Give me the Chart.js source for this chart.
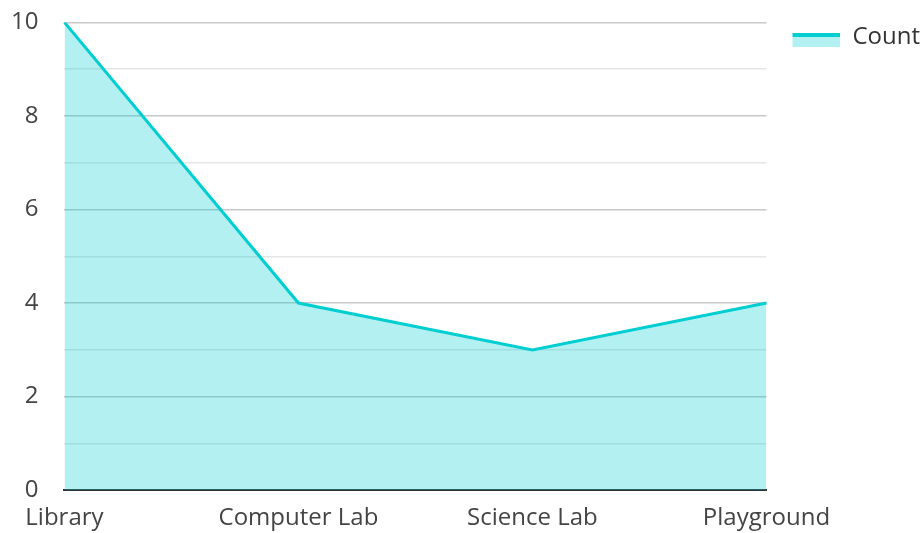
<!DOCTYPE html>
<html>
<head>
<meta charset="utf-8">
<script src="https://cdn.jsdelivr.net/npm/chart.js@4"></script>
<style>
  html, body { margin: 0; padding: 0; background: #fff; }
  #wrap { width: 924px; height: 533px; }
</style>
</head>
<body>
<div id="wrap"><canvas id="myChart"></canvas></div>
<script>
const locations = ['Library', 'Computer Lab', 'Science Lab', 'Playground'];
const count = [10, 4, 3, 4];
const yTicks = [0, 2, 4, 6, 8, 10];

const lineColor = '#00ced1';
const fillColor = 'rgba(0, 206, 209, 0.3)';

// legend swatch: light box with a thick line along the top
// (transparent margin on the left/top so it sits where the original does)
const swatch = document.createElement('canvas');
swatch.width = 74;
swatch.height = 20;
const sctx = swatch.getContext('2d');
sctx.fillStyle = fillColor;
sctx.fillRect(26, 6, 49, 14);
sctx.fillStyle = lineColor;
sctx.fillRect(26, 6, 49, 4);

// nudge the legend down a little
const legendNudge = {
    id: 'legendNudge',
    afterLayout(chart) { if (chart.legend) chart.legend.top += 5; }
};

Chart.defaults.font.family = "'Open Sans', 'Noto Sans', sans-serif";
Chart.defaults.font.size = 24;
Chart.defaults.color = '#444';

const ctx = document.getElementById('myChart').getContext('2d');
const myChart = new Chart(ctx, {
    type: 'line',
    data: {
        labels: locations,
        datasets: [{
            label: 'Count',
            data: count,
            borderColor: lineColor,
            backgroundColor: fillColor,
            borderWidth: 3,
            fill: 'origin',
            pointRadius: 0,
            tension: 0
        }]
    },
    options: {
        responsive: true,
        maintainAspectRatio: false,
        animation: false,
        layout: { padding: { top: 20, left: 3, right: -6, bottom: 0 } },
        plugins: {
            tooltip: { enabled: false },
            legend: {
                position: 'right',
                align: 'start',
                labels: {
                    usePointStyle: true,
                    pointStyleWidth: 74,
                    boxHeight: 20,
                    padding: 0,
                    color: '#333',
                    generateLabels: (chart) => {
                        const items = Chart.defaults.plugins.legend.labels.generateLabels(chart);
                        items.forEach(it => { it.pointStyle = swatch; });
                        return items;
                    }
                }
            }
        },
        scales: {
            x: {
                grid: { display: false, drawTicks: true, tickLength: 14 },
                border: { display: true, color: '#333', width: 2 },
                ticks: { padding: 0, maxRotation: 0 }
            },
            y: {
                min: 0,
                max: 10,
                border: { display: false },
                grid: {
                    drawTicks: true,
                    tickLength: 18,
                    tickColor: 'rgba(0,0,0,0)',
                    color: (c) => (yTicks.includes(c.tick.value) ? '#c8c8c8' : '#e6e6e6'),
                    lineWidth: 1.5
                },
                ticks: {
                    stepSize: 1,
                    padding: 8,
                    callback: (v) => (yTicks.includes(v) ? v : '')
                }
            }
        }
    },
    plugins: [legendNudge]
});
</script>
</body>
</html>
